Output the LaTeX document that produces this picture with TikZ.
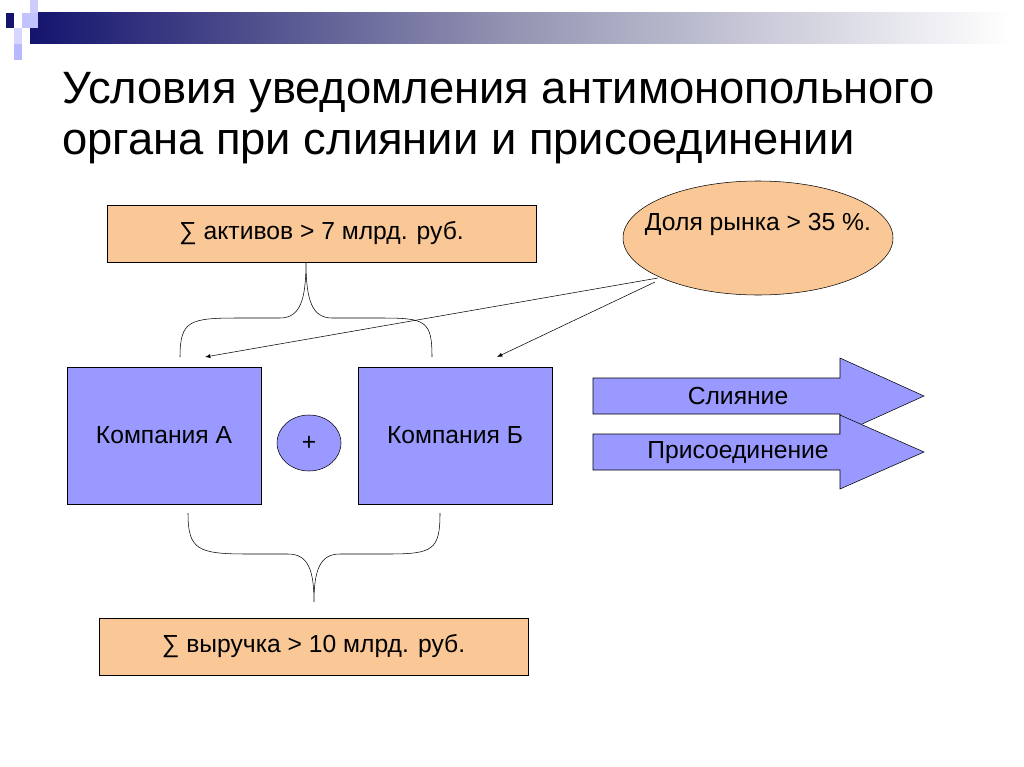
\documentclass[tikz,border=0pt]{standalone}
\usepackage{fontspec}
\setmainfont{Liberation Sans}
\usetikzlibrary{shapes.geometric}
\definecolor{navy}{RGB}{20,20,110}
\definecolor{boxor}{RGB}{250,200,150}
\definecolor{boxbl}{RGB}{153,153,255}
\begin{document}
\begin{tikzpicture}[x=0.75pt,y=-0.75pt,
  ob/.style={draw=black,fill=boxor,minimum height=0.75*57pt,font=\fontsize{18.5}{22}\selectfont},
  bb/.style={draw=black,fill=boxbl,minimum width=0.75*194pt,minimum height=0.75*137pt,font=\fontsize{18.5}{22}\selectfont},
  arr/.style={-{latex},black,thin},
  txt/.style={font=\fontsize{18.5}{22}\selectfont}]
\useasboundingbox (0,0) rectangle (1024,767);
% header
\shade[left color=navy,right color=white,middle color={rgb,255:red,150;green,150;blue,180}] (30,13) rectangle (1010,44);
\fill[navy] (6,13) rectangle (14,28);
\fill[boxbl!60] (22,13) rectangle (38,28);
\fill[boxbl!50] (30,0) rectangle (38,13);
\fill[boxbl!40] (14,28) rectangle (22,44);
\fill[boxbl!70] (14,44) rectangle (22,60);
% title
\node[anchor=west,align=left,font=\fontsize{34}{38}\selectfont,inner sep=0] (title) at (62,118) {Условия уведомления антимонопольного\\органа при слиянии и присоединении};
% boxes
\node[ob,minimum width=0.75*429pt] (assets) at (321.5,233.5) {∑ активов > 7 млрд. руб.};
\node[ob,minimum width=0.75*429pt] (rev) at (313.5,646.5) {∑ выручка > 10 млрд. руб.};
\node[bb] (A) at (164,435.5) {Компания А};
\node[bb] (B) at (455,435.5) {Компания Б};
\node[draw,ellipse,fill=boxbl,minimum width=0.75*64pt,minimum height=0.75*56pt,txt] (plus) at (309,443) {+};
\node[draw,ellipse,fill=boxor,minimum width=0.75*270pt,minimum height=0.75*114pt,txt] (share) at (758,238) {};
\node[txt] (sharet) at (758,224) {Доля рынка > 35 \%.};
% braces
\draw (180,357) .. controls (180,320) and (190,318) .. (240,318) -- (280,318) .. controls (300,318) and (306,300) .. (306,262)
      .. controls (306,300) and (312,318) .. (332,318) -- (380,318) .. controls (425,318) and (432,320) .. (432,357);
\draw (188,513) .. controls (188,550) and (198,554) .. (248,554) -- (288,554) .. controls (308,554) and (314,570) .. (314,602)
      .. controls (314,570) and (320,554) .. (340,554) -- (388,554) .. controls (433,554) and (440,550) .. (440,513);
% arrows
\coordinate (s1) at (658,278);
\coordinate (s2) at (655,282);
\coordinate (t1) at (205,357);
\coordinate (t2) at (497,357);
\draw[arr] (s1) -- (t1);
\draw[arr] (s2) -- (t2);
% big arrows
\draw[fill=boxbl] (593,378) -- (840,378) -- (840,358) -- (924,396) -- (840,434) -- (840,414) -- (593,414) -- cycle;
\node[txt] (m1) at (738,396) {Слияние};
\draw[fill=boxbl] (593,434) -- (840,434) -- (840,415) -- (924,452) -- (840,489) -- (840,470) -- (593,470) -- cycle;
\node[txt] (m2) at (738,453) {Присоединение};
\end{tikzpicture}
\end{document}
